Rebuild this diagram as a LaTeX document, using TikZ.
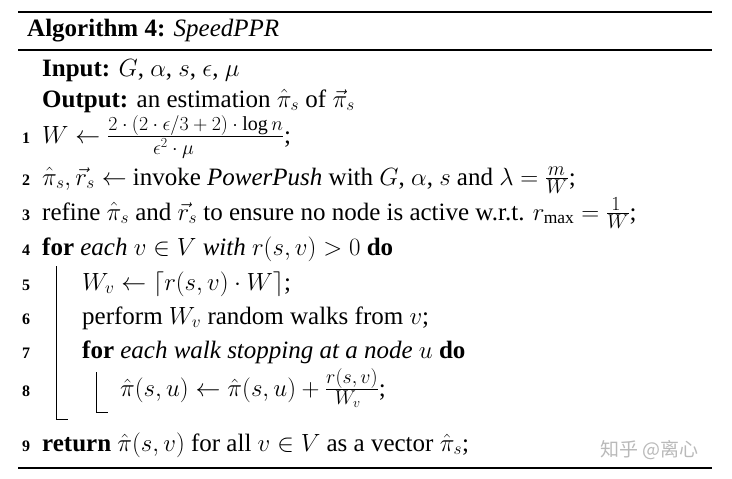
\documentclass[tikz,border=0pt]{standalone}
\usepackage{amsmath}
\usepackage{fontspec}
\setmainfont{Liberation Serif}
\newfontfamily\cjk{Noto Sans CJK SC}
\newcommand{\bigfr}[2]{\genfrac{}{}{}{1}{\scalebox{0.8}{$#1$}}{\scalebox{0.8}{$#2$}}}
\begin{document}
\begin{tikzpicture}[x=1pt,y=-1pt,
  every node/.style={inner sep=0pt,anchor=base west,font=\fontsize{25}{29}\selectfont},
  num/.style={anchor=base,font=\fontsize{16}{19}\selectfont\bfseries},
  rulethick/.style={line width=2pt},
  rulethin/.style={line width=1.2pt},
  bar/.style={line width=1pt}]
\useasboundingbox (0,0) rectangle (732,479);
\draw[rulethick] (18,12) -- (712,12);
\node (title) at (27,37) {\textbf{Algorithm 4:} \textit{SpeedPPR}};
\draw[rulethin] (18,50) -- (712,50);
\node (in) at (42,76) {\textbf{Input:} $G$, $\alpha$, $s$, $\epsilon$, $\mu$};
\node (out) at (42,107) {\textbf{Output:} an estimation $\hat{\pi}_s$ of $\vec{\pi}_s$};
\node[num] (n1) at (26,143) {1};
\node (l1) at (42,143) {$W \leftarrow \bigfr{2\cdot(2\cdot\epsilon/3+2)\cdot\log n}{\epsilon^2\cdot\mu}$;};
\node[num] (n2) at (26,185) {2};
\node (l2) at (42,185) {$\hat{\pi}_s, \vec{r}_s \leftarrow$ invoke \textit{PowerPush} with $G$, $\alpha$, $s$ and $\lambda=\bigfr{m}{W}$;};
\node[num] (n3) at (26,220) {3};
\node (l3) at (42,220) {refine $\hat{\pi}_s$ and $\vec{r}_s$ to ensure no node is active w.r.t. $r_{\max}=\bigfr{1}{W}$;};
\node[num] (n4) at (26,255) {4};
\node (l4) at (42,255) {\textbf{for} \textit{each} $v\in V$ \textit{with} $r(s,v)>0$ \textbf{do}};
\node[num] (n5) at (26,290) {5};
\node (l5) at (82,290) {$W_v \leftarrow \lceil r(s,v)\cdot W\rceil$;};
\node[num] (n6) at (26,324) {6};
\node (l6) at (82,324) {perform $W_v$ random walks from $v$;};
\node[num] (n7) at (26,358) {7};
\node (l7) at (82,358) {\textbf{for} \textit{each walk stopping at a node} $u$ \textbf{do}};
\node[num] (n8) at (26,396) {8};
\node (l8) at (120,396) {$\hat{\pi}(s,u) \leftarrow \hat{\pi}(s,u) + \bigfr{r(s,v)}{W_v}$;};
\node[num] (n9) at (26,451) {9};
\node (l9) at (42,451) {\textbf{return} $\hat{\pi}(s,v)$ for all $v\in V$ as a vector $\hat{\pi}_s$;};
\draw[bar] (56,266) -- (56,419) -- (68,419);
\draw[bar] (96,372) -- (96,412) -- (108,412);
\draw[rulethick] (18,468) -- (712,468);
\node[text=gray!55,font=\cjk\fontsize{19}{22}\selectfont] (wm) at (600,456) {知乎 @离心};
\end{tikzpicture}
\end{document}
